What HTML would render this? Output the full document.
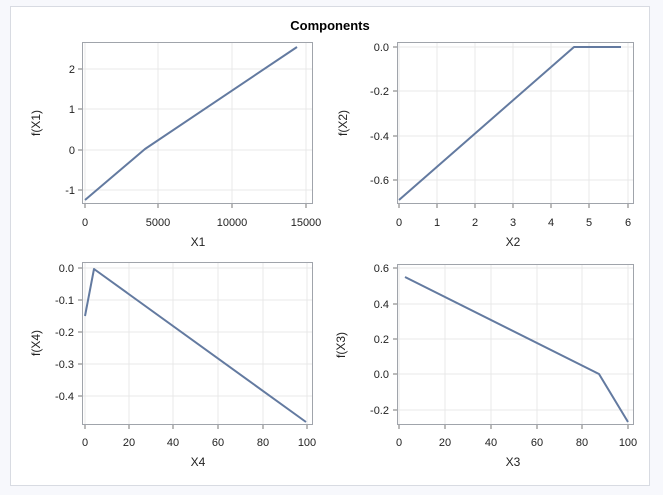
<!DOCTYPE html>
<html><head><meta charset="utf-8"><style>
html,body{margin:0;padding:0;background:#f7f8fc;}
svg{display:block;font-family:"Liberation Sans",Arial,sans-serif;}
.g{stroke:#e8e8e8;stroke-width:1}
.f{fill:none;stroke:#a0a4ab;stroke-width:1}
.t{font-size:11px;fill:#222}
.l{font-size:12px;fill:#222}
.s{fill:none;stroke:#637aa0;stroke-width:2;stroke-linejoin:round}
.k{stroke:#777;stroke-width:1}
</style></head><body>
<svg width="663" height="495" viewBox="0 0 663 495">
<rect x="10.5" y="6.5" width="639" height="479" fill="#fff" stroke="#d8dbe2"/>
<text x="330" y="30" text-anchor="middle" font-weight="bold" font-size="13" fill="#000">Components</text>

<!-- Panel 1 -->
<g>
<rect x="82.5" y="42.5" width="230" height="161" fill="#fff"/>
<line class="g" x1="85" y1="43" x2="85" y2="203"/><line class="g" x1="158" y1="43" x2="158" y2="203"/><line class="g" x1="232" y1="43" x2="232" y2="203"/><line class="g" x1="306" y1="43" x2="306" y2="203"/>
<line class="g" x1="83" y1="69" x2="312" y2="69"/><line class="g" x1="83" y1="109" x2="312" y2="109"/><line class="g" x1="83" y1="150" x2="312" y2="150"/><line class="g" x1="83" y1="190" x2="312" y2="190"/>
<rect class="f" x="82.5" y="42.5" width="230" height="161"/>
<polyline class="s" points="85,200 145,149 297,47"/>
<g class="k"><line x1="85" y1="204" x2="85" y2="208"/><line x1="158" y1="204" x2="158" y2="208"/><line x1="232" y1="204" x2="232" y2="208"/><line x1="306" y1="204" x2="306" y2="208"/>
<line x1="78" y1="69" x2="82" y2="69"/><line x1="78" y1="109" x2="82" y2="109"/><line x1="78" y1="150" x2="82" y2="150"/><line x1="78" y1="190" x2="82" y2="190"/></g>
<g class="t" text-anchor="middle"><text x="85" y="226">0</text><text x="158" y="226">5000</text><text x="232" y="226">10000</text><text x="306" y="226">15000</text></g>
<g class="t" text-anchor="end"><text x="75" y="73">2</text><text x="75" y="113">1</text><text x="75" y="154">0</text><text x="75" y="194">-1</text></g>
<text class="l" x="198" y="246" text-anchor="middle">X1</text>
<text class="l" transform="translate(40,123) rotate(-90)" text-anchor="middle">f(X1)</text>
</g>

<!-- Panel 2 -->
<g>
<rect x="397.5" y="42.5" width="236" height="161" fill="#fff"/>
<line class="g" x1="399" y1="43" x2="399" y2="203"/><line class="g" x1="437" y1="43" x2="437" y2="203"/><line class="g" x1="475" y1="43" x2="475" y2="203"/><line class="g" x1="513" y1="43" x2="513" y2="203"/><line class="g" x1="551" y1="43" x2="551" y2="203"/><line class="g" x1="589" y1="43" x2="589" y2="203"/><line class="g" x1="628" y1="43" x2="628" y2="203"/>
<line class="g" x1="398" y1="47" x2="633" y2="47"/><line class="g" x1="398" y1="91" x2="633" y2="91"/><line class="g" x1="398" y1="136" x2="633" y2="136"/><line class="g" x1="398" y1="180" x2="633" y2="180"/>
<rect class="f" x="397.5" y="42.5" width="236" height="161"/>
<polyline class="s" points="399,200 574,47 621,47"/>
<g class="k"><line x1="399" y1="204" x2="399" y2="208"/><line x1="437" y1="204" x2="437" y2="208"/><line x1="475" y1="204" x2="475" y2="208"/><line x1="513" y1="204" x2="513" y2="208"/><line x1="551" y1="204" x2="551" y2="208"/><line x1="589" y1="204" x2="589" y2="208"/><line x1="628" y1="204" x2="628" y2="208"/>
<line x1="393" y1="47" x2="397" y2="47"/><line x1="393" y1="91" x2="397" y2="91"/><line x1="393" y1="136" x2="397" y2="136"/><line x1="393" y1="180" x2="397" y2="180"/></g>
<g class="t" text-anchor="middle"><text x="399" y="226">0</text><text x="437" y="226">1</text><text x="475" y="226">2</text><text x="513" y="226">3</text><text x="551" y="226">4</text><text x="589" y="226">5</text><text x="628" y="226">6</text></g>
<g class="t" text-anchor="end"><text x="389" y="51">0.0</text><text x="389" y="95">-0.2</text><text x="389" y="140">-0.4</text><text x="389" y="184">-0.6</text></g>
<text class="l" x="513" y="246" text-anchor="middle">X2</text>
<text class="l" transform="translate(347,123) rotate(-90)" text-anchor="middle">f(X2)</text>
</g>

<!-- Panel 3 -->
<g>
<rect x="82.5" y="262.5" width="230" height="162" fill="#fff"/>
<line class="g" x1="85" y1="263" x2="85" y2="424"/><line class="g" x1="129" y1="263" x2="129" y2="424"/><line class="g" x1="173" y1="263" x2="173" y2="424"/><line class="g" x1="218" y1="263" x2="218" y2="424"/><line class="g" x1="263" y1="263" x2="263" y2="424"/><line class="g" x1="307" y1="263" x2="307" y2="424"/>
<line class="g" x1="83" y1="268" x2="312" y2="268"/><line class="g" x1="83" y1="300" x2="312" y2="300"/><line class="g" x1="83" y1="332" x2="312" y2="332"/><line class="g" x1="83" y1="364" x2="312" y2="364"/><line class="g" x1="83" y1="396" x2="312" y2="396"/>
<rect class="f" x="82.5" y="262.5" width="230" height="162"/>
<polyline class="s" points="85,316 94,269 306,422"/>
<g class="k"><line x1="85" y1="425" x2="85" y2="429"/><line x1="129" y1="425" x2="129" y2="429"/><line x1="173" y1="425" x2="173" y2="429"/><line x1="218" y1="425" x2="218" y2="429"/><line x1="263" y1="425" x2="263" y2="429"/><line x1="307" y1="425" x2="307" y2="429"/>
<line x1="78" y1="268" x2="82" y2="268"/><line x1="78" y1="300" x2="82" y2="300"/><line x1="78" y1="332" x2="82" y2="332"/><line x1="78" y1="364" x2="82" y2="364"/><line x1="78" y1="396" x2="82" y2="396"/></g>
<g class="t" text-anchor="middle"><text x="85" y="446">0</text><text x="129" y="446">20</text><text x="173" y="446">40</text><text x="218" y="446">60</text><text x="263" y="446">80</text><text x="307" y="446">100</text></g>
<g class="t" text-anchor="end"><text x="74" y="272">0.0</text><text x="74" y="304">-0.1</text><text x="74" y="336">-0.2</text><text x="74" y="368">-0.3</text><text x="74" y="400">-0.4</text></g>
<text class="l" x="198" y="466" text-anchor="middle">X4</text>
<text class="l" transform="translate(40,343) rotate(-90)" text-anchor="middle">f(X4)</text>
</g>

<!-- Panel 4 -->
<g>
<rect x="397.5" y="264.5" width="236" height="160" fill="#fff"/>
<line class="g" x1="399" y1="265" x2="399" y2="424"/><line class="g" x1="445" y1="265" x2="445" y2="424"/><line class="g" x1="491" y1="265" x2="491" y2="424"/><line class="g" x1="537" y1="265" x2="537" y2="424"/><line class="g" x1="582" y1="265" x2="582" y2="424"/><line class="g" x1="628" y1="265" x2="628" y2="424"/>
<line class="g" x1="398" y1="268" x2="633" y2="268"/><line class="g" x1="398" y1="304" x2="633" y2="304"/><line class="g" x1="398" y1="339" x2="633" y2="339"/><line class="g" x1="398" y1="374" x2="633" y2="374"/><line class="g" x1="398" y1="410" x2="633" y2="410"/>
<rect class="f" x="397.5" y="264.5" width="236" height="160"/>
<polyline class="s" points="405,277 599,374 628,422"/>
<g class="k"><line x1="399" y1="425" x2="399" y2="429"/><line x1="445" y1="425" x2="445" y2="429"/><line x1="491" y1="425" x2="491" y2="429"/><line x1="537" y1="425" x2="537" y2="429"/><line x1="582" y1="425" x2="582" y2="429"/><line x1="628" y1="425" x2="628" y2="429"/>
<line x1="393" y1="268" x2="397" y2="268"/><line x1="393" y1="304" x2="397" y2="304"/><line x1="393" y1="339" x2="397" y2="339"/><line x1="393" y1="374" x2="397" y2="374"/><line x1="393" y1="410" x2="397" y2="410"/></g>
<g class="t" text-anchor="middle"><text x="399" y="446">0</text><text x="445" y="446">20</text><text x="491" y="446">40</text><text x="537" y="446">60</text><text x="582" y="446">80</text><text x="628" y="446">100</text></g>
<g class="t" text-anchor="end"><text x="389" y="272">0.6</text><text x="389" y="308">0.4</text><text x="389" y="343">0.2</text><text x="389" y="378">0.0</text><text x="389" y="414">-0.2</text></g>
<text class="l" x="513" y="466" text-anchor="middle">X3</text>
<text class="l" transform="translate(345,345) rotate(-90)" text-anchor="middle">f(X3)</text>
</g>
</svg>
</body></html>
